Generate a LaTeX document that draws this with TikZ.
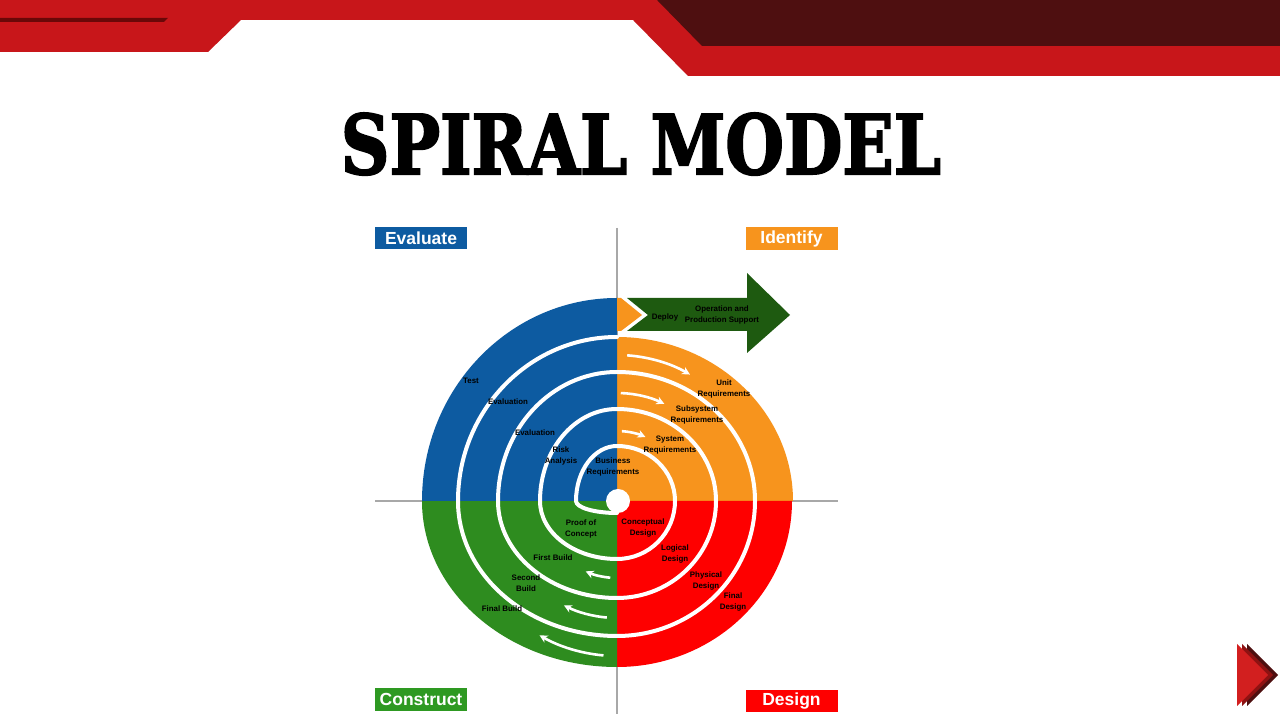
\documentclass[tikz,border=0pt]{standalone}
\usepackage{fontspec}
\usepackage{graphicx}
\usetikzlibrary{arrows.meta}
\newfontfamily\lsans{Liberation Sans}
\newfontfamily\titlefont[BoldFeatures={FakeBold=2.5}]{DejaVu Serif}
\definecolor{hdrred}{HTML}{C8161A}
\definecolor{hdrdark}{HTML}{4E0F10}
\definecolor{hdrline}{HTML}{6A0808}
\definecolor{qblue}{HTML}{0D5BA1}
\definecolor{qorange}{HTML}{F7941D}
\definecolor{qred}{HTML}{FE0000}
\definecolor{qgreen}{HTML}{2E8C1F}
\definecolor{dgreen}{HTML}{1E5A10}
\definecolor{axisgray}{HTML}{A8A8A8}
\definecolor{lblgreen}{HTML}{2E9922}
\definecolor{nextmid}{HTML}{8E1212}
\definecolor{nextfront}{HTML}{D21F1F}
\begin{document}
\begin{tikzpicture}[x=1pt,y=1pt,
  lbl/.style={font=\lsans\bfseries\fontsize{7.9}{10.5}\selectfont, text=black, align=center, inner sep=0pt},
  tag/.style={font=\lsans\bfseries\fontsize{17.5}{18}\selectfont, text=white, minimum width=92pt, minimum height=22.5pt, inner sep=0pt},
  whiteline/.style={white, line width=4pt, line cap=round},
  bandarrow/.style={white, line width=2.6pt, -{Stealth[length=8pt,width=8pt]}},
  axisline/.style={axisgray, line width=1.5pt}
]
\useasboundingbox (0,0) rectangle (1280,720);
\fill[white] (0,0) rectangle (1280,720);
% header
\fill[hdrred] (0,720) -- (1280,720) -- (1280,644) -- (688,644) -- (633,700) -- (241,700) -- (208,668) -- (0,668) -- cycle;
\fill[hdrdark] (657,720) -- (1280,720) -- (1280,674) -- (702,674) -- cycle;
\fill[hdrline] (0,702) -- (168,702) -- (164,698) -- (0,698) -- cycle;
% title
\node[anchor=base, inner sep=0pt] (title) at (641,546) {\resizebox{600pt}{61pt}{\titlefont\bfseries SPIRAL MODEL}};
% diagram
\begin{scope}[shift={(617,219)}]
  \draw[axisline] (0,273) -- (0,-213);
  \draw[axisline] (-242,0) -- (221,0);
  % quadrants
  \fill[qorange] (0,0) -- (0,164) .. controls (96.6,164) and (176,90.5) .. (176,0) -- cycle;
  \fill[qred] (0,0) -- (175,0) .. controls (175,-91.6) and (96.6,-166) .. (0,-166) -- cycle;
  \fill[qgreen] (0,0) -- (0,-166) .. controls (-107.6,-166) and (-195,-91.6) .. (-195,0) -- cycle;
  \fill[qblue] (0,0) -- (-195,0) .. controls (-195,112) and (-107.6,203) .. (0,203) -- cycle;
  % spiral
  \draw[whiteline] (0,-12)
    .. controls (-22.6,-12) and (-41,-6.6) .. (-41,0)
    .. controls (-41,30.4) and (-22.6,55) .. (0,55)
    .. controls (32.0,55) and (58,30.4) .. (58,0)
    .. controls (58,-32.0) and (32.0,-58) .. (0,-58)
    .. controls (-42.5,-58) and (-77,-32.0) .. (-77,0)
    .. controls (-77,50.8) and (-42.5,92) .. (0,92)
    .. controls (54.6,92) and (99,50.8) .. (99,0)
    .. controls (99,-53.5) and (54.6,-97) .. (0,-97)
    .. controls (-65.7,-97) and (-119,-53.5) .. (-119,0)
    .. controls (-119,71.2) and (-65.7,129) .. (0,129)
    .. controls (76.2,129) and (138,71.2) .. (138,0)
    .. controls (138,-74.5) and (76.2,-135) .. (0,-135)
    .. controls (-87.8,-135) and (-159,-74.5) .. (-159,0)
    .. controls (-159,90.5) and (-87.8,164) .. (0,164);
  \fill[white] (1,0) circle[radius=12];
  % band arrows
  \draw[bandarrow] (86:146) arc[start angle=86, end angle=60, radius=146];
  \draw[bandarrow] (88:108) arc[start angle=88, end angle=64, radius=108];
  \draw[bandarrow] (86:70) arc[start angle=86, end angle=66, radius=70];
  \draw[bandarrow] (265:77) arc[start angle=265, end angle=246, radius=77];
  \draw[bandarrow] (265:117) arc[start angle=265, end angle=243, radius=117];
  \draw[bandarrow] (265:155) arc[start angle=265, end angle=240, radius=155];
  % deploy arrow
  \fill[qorange] (0,203) -- (4,203) -- (25,186) -- (4,170) -- (0,170) -- cycle;
  \fill[dgreen] (10,203) -- (130,203) -- (130,228) -- (173,186) -- (130,148) -- (130,170) -- (10,170) -- (31,186) -- cycle;
  \node[lbl] (deploy) at (48,184) {Deploy};
  \node[lbl] (operation) at (105,186) {Operation and\\Production Support};
  % texts
  \node[lbl] (test) at (-146,120) {Test};
  \node[lbl] (eval1) at (-109,99) {Evaluation};
  \node[lbl] (eval2) at (-82,68) {Evaluation};
  \node[lbl] (risk) at (-56,45) {Risk\\Analysis};
  \node[lbl] (business) at (-4,34) {Business\\Requirements};
  \node[lbl] (system) at (53,56) {System\\Requirements};
  \node[lbl] (subsystem) at (80,86) {Subsystem\\Requirements};
  \node[lbl] (unit) at (107,112) {Unit\\Requirements};
  \node[lbl] (conceptual) at (26,-27) {Conceptual\\Design};
  \node[lbl] (logical) at (58,-53) {Logical\\Design};
  \node[lbl] (physical) at (89,-80) {Physical\\Design};
  \node[lbl] (finaldesign) at (116,-101) {Final\\Design};
  \node[lbl] (proof) at (-36,-28) {Proof of\\Concept};
  \node[lbl] (firstbuild) at (-64,-57) {First Build};
  \node[lbl] (secondbuild) at (-91,-82) {Second\\Build};
  \node[lbl] (finalbuild) at (-115,-108) {Final Build};
\end{scope}
% quadrant tags
\node[tag, fill=qblue] (evaluate) at (421,482) {Evaluate};
\node[tag, fill=qorange] (identify) at (791.5,481.5) {Identify};
\node[tag, fill=lblgreen] (construct) at (421,20.5) {Construct};
\node[tag, fill=qred] (design) at (791.5,19) {Design};
% next icon
\fill[hdrdark] (1247,14) -- (1278,45) -- (1247,76) -- cycle;
\fill[nextmid] (1242,14) -- (1273,45) -- (1242,76) -- cycle;
\fill[nextfront] (1237,14) -- (1268,45) -- (1237,76) -- cycle;
\end{tikzpicture}
\end{document}
